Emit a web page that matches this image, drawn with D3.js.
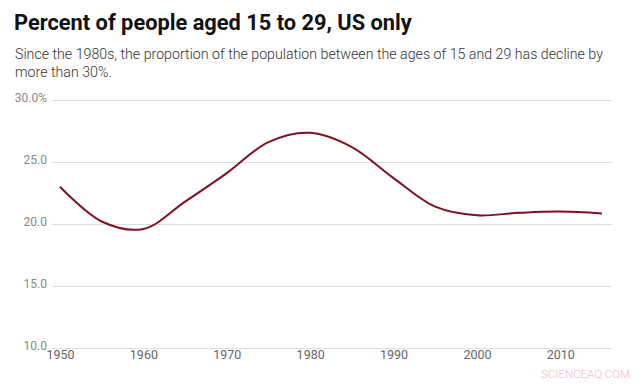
<!DOCTYPE html>
<html>
<head>
<meta charset="utf-8">
<script src="https://cdn.jsdelivr.net/npm/d3@7"></script>
<style>
  body { margin: 0; background: #fff; font-family: Roboto, "Noto Sans", sans-serif; }
</style>
</head>
<body>
<script>
// values
let years = [1950, 1955, 1960, 1965, 1970, 1975, 1980, 1985, 1990, 1995, 2000, 2005, 2010, 2015];
let percent = [23.0, 20.2, 19.6, 21.8, 24.1, 26.6, 27.35, 26.2, 23.7, 21.4, 20.7, 20.9, 21.0, 20.85];
let yTicks = [10, 15, 20, 25, 30];
let xTicks = [1950, 1960, 1970, 1980, 1990, 2000, 2010];

let data = years.map((yr, i) => { return { year: yr, value: percent[i] }; });

let width = 644;
let height = 384;

let svg = d3.select('body').append('svg')
  .attr('width', width)
  .attr('height', height);

let x = d3.scaleLinear()
  .domain([1950, 2015])
  .range([60, 602]);
let y = d3.scaleLinear()
  .domain([10, 30])
  .range([348, 100]);

// title + subtitle
svg.append('text')
  .attr('x', 14)
  .attr('y', 30)
  .attr('font-size', 21.8)
  .attr('font-weight', 'bold')
  .attr('fill', '#111')
  .text('Percent of people aged 15 to 29, US only');

let sub = ['Since the 1980s, the proportion of the population between the ages of 15 and 29 has decline by',
           'more than 30%.'];
svg.selectAll('.sub')
  .data(sub)
  .enter()
  .append('text')
  .attr('class', 'sub')
  .attr('x', 15)
  .attr('y', (d, i) => 59 + i * 18)
  .attr('font-size', 14.2)
  .attr('font-weight', 300)
  .attr('fill', '#333')
  .text(d => d);

// y gridlines + labels
let yAxis = d3.axisLeft(y)
  .tickValues(yTicks)
  .tickSize(-(612 - 52))
  .tickPadding(5)
  .tickFormat(d => d === 30 ? d3.format('.1f')(d) + '%' : d3.format('.1f')(d));

let gy = svg.append('g')
  .attr('transform', 'translate(52, 0)')
  .call(yAxis);
gy.select('.domain').remove();
gy.selectAll('.tick line').attr('stroke', '#ddd');
gy.selectAll('.tick text')
  .attr('fill', '#888')
  .attr('font-size', 12)
  .attr('font-family', 'Roboto, sans-serif')
  .attr('dy', '0.1em');

// x labels
let xAxis = d3.axisBottom(x)
  .tickValues(xTicks)
  .tickSize(0)
  .tickPadding(2)
  .tickFormat(d3.format('d'));

let gx = svg.append('g')
  .attr('transform', 'translate(0, 348)')
  .call(xAxis);
gx.select('.domain').remove();
gx.selectAll('.tick text')
  .attr('fill', '#666')
  .attr('font-size', 12.5)
  .attr('font-family', 'Roboto, sans-serif');

// line
let line = d3.line()
  .x(d => x(d.year))
  .y(d => y(d.value))
  .curve(d3.curveCatmullRom.alpha(0.5));

svg.append('path')
  .datum(data)
  .attr('fill', 'none')
  .attr('stroke', '#7e1220')
  .attr('stroke-width', 2)
  .attr('d', line);

// watermark
svg.append('text')
  .attr('x', 630)
  .attr('y', 378)
  .attr('text-anchor', 'end')
  .attr('font-size', 11.5)
  .attr('font-weight', 300)
  .attr('fill', '#efb9c4')
  .text('SCIENCEAQ.COM');
</script>
</body>
</html>
